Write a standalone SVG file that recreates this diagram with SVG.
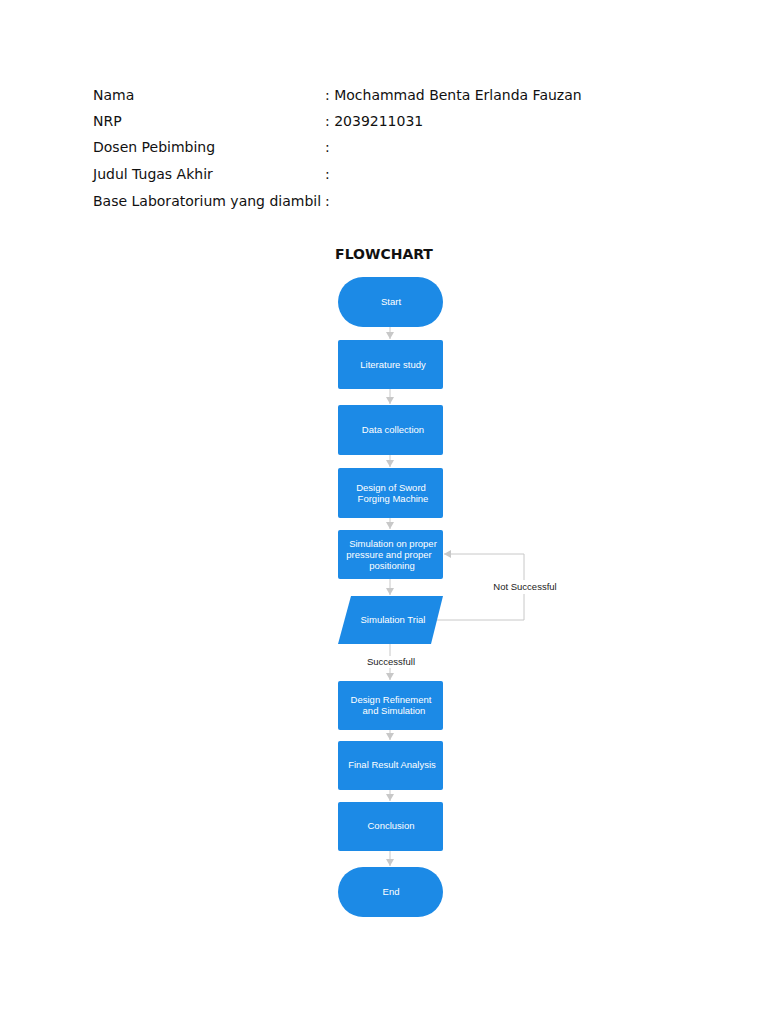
<svg xmlns="http://www.w3.org/2000/svg" width="768" height="1024" viewBox="0 0 768 1024">
<style>
.h{font-family:"DejaVu Sans",sans-serif;font-size:14px;fill:#111}
.n{fill:#1c8ae6}
.t{font-family:"Liberation Sans",Arial,sans-serif;font-size:9.5px;fill:#fff;text-anchor:middle}
.l{font-family:"Liberation Sans",Arial,sans-serif;font-size:9.5px;fill:#222;text-anchor:middle}
.c{stroke:#c8c8c8;stroke-width:1;fill:none;marker-end:url(#a)}
</style>
<defs><marker id="a" markerWidth="8" markerHeight="8" refX="7" refY="4" orient="auto" markerUnits="userSpaceOnUse"><path d="M0,0 L7,4 L0,8 z" fill="#c8c8c8"/></marker></defs>
<rect width="768" height="1024" fill="#fff"/>
<g id="header">
<text class="h" x="93" y="100">Nama</text><text class="h" x="325" y="100">: Mochammad Benta Erlanda Fauzan</text>
<text class="h" x="93" y="126">NRP</text><text class="h" x="325" y="126">: 2039211031</text>
<text class="h" x="93" y="152">Dosen Pebimbing</text><text class="h" x="325" y="152">:</text>
<text class="h" x="93" y="179">Judul Tugas Akhir</text><text class="h" x="325" y="179">:</text>
<text class="h" x="93" y="206">Base Laboratorium yang diambil</text><text class="h" x="325" y="206">:</text>
<text class="h" x="384" y="259" text-anchor="middle" font-weight="bold" font-size="13.5">FLOWCHART</text>
</g>
<g id="connectors">
<path class="c" d="M390,327 V339"/>
<path class="c" d="M390,389 V404"/>
<path class="c" d="M390,455 V467"/>
<path class="c" d="M390,518 V529"/>
<path class="c" d="M390,579 V595"/>
<path class="c" d="M390,644 V680"/>
<path class="c" d="M390,730 V740"/>
<path class="c" d="M390,790 V801"/>
<path class="c" d="M390,851 V866"/>
<path class="c" d="M437,620 H524 V554 H444"/>
<rect x="488" y="580" width="72" height="14" fill="#fff"/>
<text class="l" x="525" y="590">Not Successful</text>
<rect x="364" y="656" width="54" height="12" fill="#fff"/>
<text class="l" x="391" y="665">Successfull</text>
</g>
<g id="start"><rect class="n" x="338" y="277" width="105" height="50" rx="25"/><text class="t" x="391" y="305">Start</text></g>
<g id="literature"><rect class="n" x="338" y="340" width="105" height="49" rx="2"/><text class="t" x="393" y="368">Literature study</text></g>
<g id="data"><rect class="n" x="338" y="405" width="105" height="50" rx="2"/><text class="t" x="393" y="433">Data collection</text></g>
<g id="design"><rect class="n" x="338" y="468" width="105" height="50" rx="2"/><text class="t" x="391" y="491">Design of Sword</text><text class="t" x="393" y="502">Forging Machine</text></g>
<g id="simulation"><rect class="n" x="338" y="530" width="105" height="49" rx="2"/><text class="t" x="393" y="547">Simulation on proper</text><text class="t" x="389" y="558">pressure and proper</text><text class="t" x="392" y="569">positioning</text></g>
<g id="trial"><path class="n" d="M351,596 H443 L431,644 H338 z"/><text class="t" x="393" y="623">Simulation Trial</text></g>
<g id="refinement"><rect class="n" x="338" y="681" width="105" height="49" rx="2"/><text class="t" x="391" y="703">Design Refinement</text><text class="t" x="394" y="714">and Simulation</text></g>
<g id="final"><rect class="n" x="338" y="741" width="105" height="49" rx="2"/><text class="t" x="392" y="768">Final Result Analysis</text></g>
<g id="conclusion"><rect class="n" x="338" y="802" width="105" height="49" rx="2"/><text class="t" x="391" y="829">Conclusion</text></g>
<g id="end"><rect class="n" x="338" y="867" width="105" height="50" rx="25"/><text class="t" x="391" y="895">End</text></g>
</svg>
